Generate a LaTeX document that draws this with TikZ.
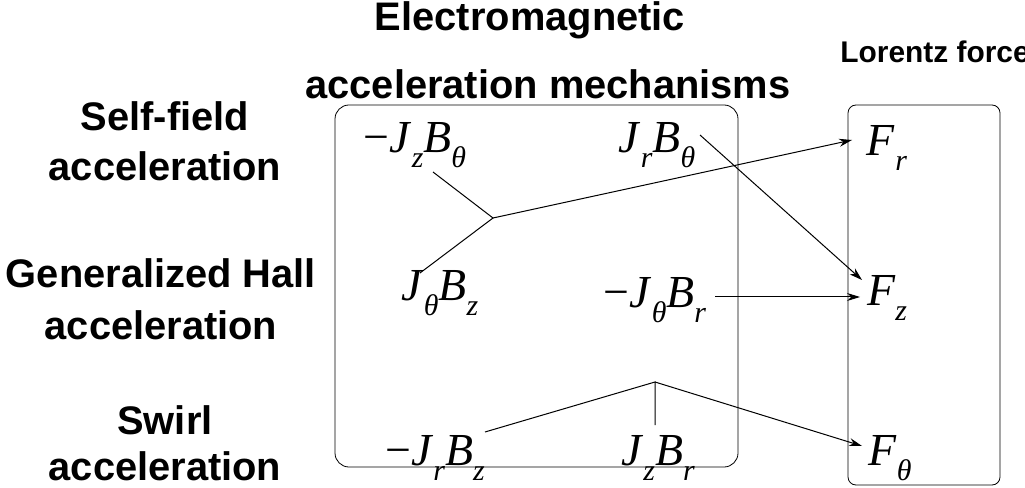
\documentclass[tikz,border=0pt]{standalone}
\usepackage{fontspec}
\setmainfont{Liberation Serif}
\newfontfamily\lab{Liberation Sans}
\usetikzlibrary{arrows.meta}
\newcommand{\vv}[1]{\textit{#1}}
\newcommand{\sbs}[1]{\raisebox{-0.32em}{\fontsize{30}{32}\selectfont\textit{#1}}}
\begin{document}
\begin{tikzpicture}[x=1bp,y=-1bp,
  lbl/.style={font=\lab\bfseries\fontsize{40}{42}\selectfont,inner sep=0},
  mth/.style={font=\fontsize{46}{50}\selectfont,inner sep=0},
  box/.style={draw,rounded corners=14bp,line width=0.8bp},
  ln/.style={line width=1bp},
  arr/.style={line width=1bp,-{Stealth[length=13bp,width=8bp]}}]
\useasboundingbox (0,0) rectangle (1025,488);
\node[lbl] (t1) at (530,20) {Electromagnetic};
\node[lbl] (t2) at (548,84) {acceleration mechanisms};
\node[lbl,font=\lab\bfseries\fontsize{30}{32}\selectfont] (t3) at (935,52) {Lorentz force};
\node[lbl] (l1a) at (165,116) {Self-field};
\node[lbl] (l1b) at (165,166) {acceleration};
\node[lbl] (l2a) at (161,273) {Generalized Hall};
\node[lbl] (l2b) at (161,325) {acceleration};
\node[lbl] (l3a) at (165,420) {Swirl};
\node[lbl] (l3b) at (165,466) {acceleration};
\node[box,minimum width=403bp,minimum height=362bp] (bx) at (536.5,286) {};
\node[box,rounded corners=8bp,minimum width=152bp,minimum height=380bp] (fb) at (924,295) {};
\node[mth] (a) at (415,145) {−\vv{J}\sbs{z}\vv{B}\sbs{θ}};
\node[mth] (b) at (657,145) {\vv{J}\sbs{r}\vv{B}\sbs{θ}};
\node[mth] (c) at (440,293) {\vv{J}\sbs{θ}\vv{B}\sbs{z}};
\node[mth] (d) at (655,300) {−\vv{J}\sbs{θ}\vv{B}\sbs{r}};
\node[mth] (e) at (435,458) {−\vv{J}\sbs{r}\vv{B}\sbs{z}};
\node[mth] (f) at (658,458) {\vv{J}\sbs{z}\vv{B}\sbs{r}};
\node[mth] (fr) at (887,148) {\vv{F}\sbs{r}};
\node[mth] (fz) at (887,298) {\vv{F}\sbs{z}};
\node[mth] (ft) at (890,458) {\vv{F}\sbs{θ}};
\coordinate (j1) at (493,218);
\coordinate (j2) at (655,382);
\coordinate (a1) at (433,172);
\coordinate (c1) at (420,273);
\coordinate (b1) at (700,135);
\coordinate (d1) at (715,297);
\coordinate (e1) at (485,432);
\coordinate (f1) at (655,425);
\coordinate (pr) at (852,140);
\coordinate (pz) at (862,280);
\coordinate (pz2) at (860,297);
\coordinate (pt) at (862,446);
\draw[ln] (a1) -- (j1) -- (c1);
\draw[arr] (j1) -- (pr);
\draw[arr] (b1) -- (pz);
\draw[arr] (d1) -- (pz2);
\draw[ln] (e1) -- (j2) -- (f1);
\draw[arr] (j2) -- (pt);
\end{tikzpicture}
\end{document}
